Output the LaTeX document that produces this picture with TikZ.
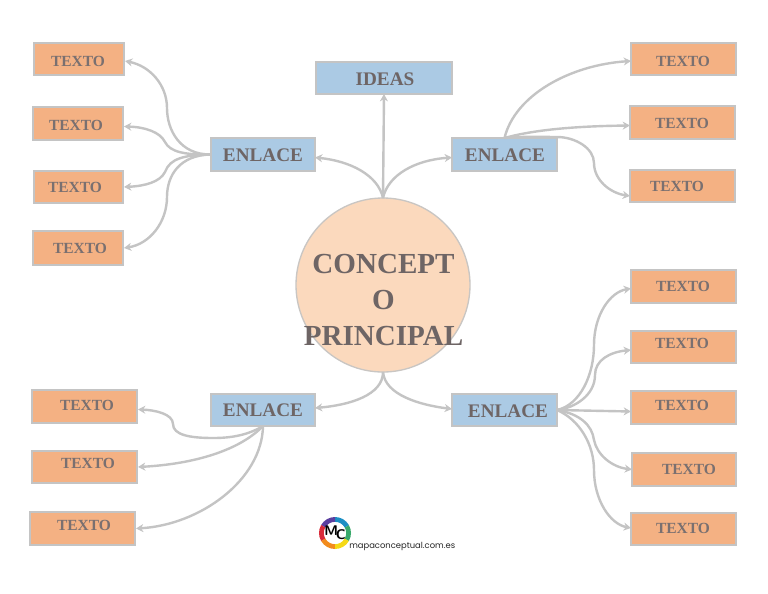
\documentclass[tikz,border=0pt]{standalone}
\usepackage{fontspec}
\setmainfont{Liberation Serif}
\newfontfamily\logofont{Poppins}
\usetikzlibrary{arrows.meta,calc}
\definecolor{lineg}{HTML}{C4C4C4}
\definecolor{orangebox}{HTML}{F4B183}
\definecolor{bluebox}{HTML}{ABCAE4}
\definecolor{peach}{HTML}{FBD9BD}
\definecolor{txtg}{HTML}{7A7070}
\tikzset{
  x=0.75pt,y=-0.75pt,
  basebox/.style={draw=lineg,line width=1.9pt,inner sep=0pt,outer sep=0pt},
  textbox/.style={basebox,fill=orangebox},
  linkbox/.style={basebox,fill=bluebox},
  textlab/.style={font=\bfseries\fontsize{11.6}{14}\selectfont,text=txtg,inner sep=0pt},
  linklab/.style={font=\bfseries\fontsize{14.4}{17}\selectfont,text=txtg!90!black,inner sep=0pt},
  mainlab/.style={font=\bfseries\fontsize{21.8}{27}\selectfont,text=txtg!90!black,align=center,inner sep=0pt},
  conn/.style={draw=lineg,line width=1.8pt,-{Stealth[length=5.5pt,width=6pt]}}
}
% name, x1, y1, x2, y2, text x, text y, style, label style, text
\newcommand{\mybox}[9]{%
  \node[#8,minimum width={(#4-#2-2)*0.75pt},minimum height={(#5-#3-2)*0.75pt}] (#1) at ({(#2+#4)/2},{(#3+#5)/2}) {};
  \node[#9] (#1-t) at (#6,#7)}
\begin{document}
\begin{tikzpicture}
\useasboundingbox (0,0) rectangle (768,593);
\fill[white] (0,0) rectangle (768,593);
% main
\node[circle,draw=lineg!90!peach,line width=1pt,fill=peach,minimum size=130.5pt,inner sep=0pt,outer sep=0pt] (main) at (383,285) {};
\node[mainlab] (main-t) at (383.5,300) {CONCEPT\\O\\PRINCIPAL};
% link boxes
\mybox{ideas}{315}{61}{453}{95}{385}{79}{linkbox}{linklab}{IDEAS};
\mybox{tl}{210}{137}{316}{172}{263}{155}{linkbox}{linklab}{ENLACE};
\mybox{tr}{451}{137}{558}{172}{505}{155}{linkbox}{linklab}{ENLACE};
\mybox{bl}{210}{393}{316}{427}{263}{410}{linkbox}{linklab}{ENLACE};
\mybox{br}{451}{393}{558}{427}{508}{411}{linkbox}{linklab}{ENLACE};
% text boxes, top left
\mybox{a1}{33}{42}{125}{76}{78}{61}{textbox}{textlab}{TEXTO};
\mybox{a2}{32}{106}{124}{141}{76}{125}{textbox}{textlab}{TEXTO};
\mybox{a3}{33}{170}{124}{204}{75}{187}{textbox}{textlab}{TEXTO};
\mybox{a4}{32}{230}{124}{266}{80}{248}{textbox}{textlab}{TEXTO};
% top right
\mybox{b1}{630}{42}{737}{76}{683}{61}{textbox}{textlab}{TEXTO};
\mybox{b2}{629}{105}{736}{140}{682}{123}{textbox}{textlab}{TEXTO};
\mybox{b3}{629}{169}{736}{203}{677}{186}{textbox}{textlab}{TEXTO};
% bottom left
\mybox{c1}{31}{389}{138}{424}{87}{405}{textbox}{textlab}{TEXTO};
\mybox{c2}{31}{450}{138}{484}{88}{463}{textbox}{textlab}{TEXTO};
\mybox{c3}{29}{511}{136}{546}{84}{525}{textbox}{textlab}{TEXTO};
% bottom right
\mybox{d1}{630}{269}{737}{304}{683}{286}{textbox}{textlab}{TEXTO};
\mybox{d2}{630}{330}{737}{364}{682}{343}{textbox}{textlab}{TEXTO};
\mybox{d3}{630}{390}{737}{425}{682}{405}{textbox}{textlab}{TEXTO};
\mybox{d4}{631}{452}{737}{487}{689}{469}{textbox}{textlab}{TEXTO};
\mybox{d5}{630}{512}{737}{546}{683}{528}{textbox}{textlab}{TEXTO};
% centre connectors
\draw[conn] (main.north) -- (ideas.south);
\draw[conn] (main.north) .. controls (378,175) and (350,161) .. ($(tl.east)+(0,3)$);
\draw[conn] (main.north) .. controls (388,175) and (415,160) .. ($(tr.west)+(0,3)$);
\draw[conn] (main.south) .. controls (383,395) and (350,405) .. ($(bl.east)+(0,-2)$);
\draw[conn] (main.south) .. controls (385,395) and (420,405) .. ($(br.west)+(0,-1)$);
% top left
\draw[conn] (tl.west) .. controls (180,155) and (167,130) .. (167,108) .. controls (167,85) and (150,66) .. ($(a1.east)+(1,2)$);
\draw[conn] (tl.west) .. controls (185,155) and (170,152) .. (165,142) .. controls (160,132) and (145,127) .. ($(a2.east)+(1,3)$);
\draw[conn] (tl.west) .. controls (185,155) and (170,158) .. (165,172) .. controls (160,182) and (145,186) .. ($(a3.east)+(1,0)$);
\draw[conn] (tl.west) .. controls (180,155) and (167,175) .. (167,197) .. controls (167,222) and (150,244) .. ($(a4.east)+(1,0)$);
% top right
\draw[conn] (tr.north) .. controls (515,95) and (570,65) .. ($(b1.west)+(0,2)$);
\draw[conn] (tr.north) .. controls (540,128) and (590,126) .. ($(b2.west)+(0,3)$);
\draw[conn] (tr.north) .. controls (530,136) and (540,137) .. (557,137) .. controls (575,137) and (594,148) .. (594,163) .. controls (594,180) and (610,193) .. ($(b3.west)+(0,10)$);
% bottom left
\draw[conn] (bl.south) .. controls (245,437) and (225,438) .. (213,438) .. controls (190,438) and (173,435) .. (173,424) .. controls (173,414) and (155,410) .. ($(c1.east)+(1,3)$);
\draw[conn] (bl.south) .. controls (240,450) and (195,464) .. ($(c2.east)+(1,0)$);
\draw[conn] (bl.south) .. controls (262,480) and (200,525) .. ($(c3.east)+(1,0)$);
% bottom right
\draw[conn] (br.east) .. controls (580,405) and (594,375) .. (594,345) .. controls (594,315) and (610,292) .. ($(d1.west)+(0,2)$);
\draw[conn] (br.east) .. controls (575,408) and (595,395) .. (595,375) .. controls (595,360) and (610,352) .. ($(d2.west)+(0,3)$);
\draw[conn] (br.east) -- ($(d3.west)+(0,4)$);
\draw[conn] (br.east) .. controls (580,414) and (592,425) .. (594,440) .. controls (597,455) and (612,467) .. ($(d4.west)+(0,0)$);
\draw[conn] (br.east) .. controls (580,420) and (594,445) .. (594,470) .. controls (594,500) and (610,524) .. ($(d5.west)+(0,-1)$);
% logo
\foreach \a/\b/\c in {-30/30/39A96B,30/90/1C8FC4,90/150/5B3FA0,150/210/D92B3A,210/270/F28C1E,270/330/F5D916}{
  \definecolor{segc}{HTML}{\c}
  \fill[segc] (335,533) ++(\a:12pt) arc[start angle=\a,end angle=\b,radius=12pt] -- ++(\b+180:3.6pt) arc[start angle=\b,end angle=\a,radius=8.4pt] -- cycle;
}
\node[font=\sffamily\bfseries\fontsize{10.5}{11}\selectfont,text=black,inner sep=0pt] (logo) at (335,532.5) {M\kern-1.6pt\raisebox{-3pt}{C}};
\node[font=\logofont\fontsize{6.3}{7}\selectfont,text=black!85,inner sep=0pt,anchor=west] (logotext) at (349,546) {mapaconceptual.com.es};
\end{tikzpicture}
\end{document}
